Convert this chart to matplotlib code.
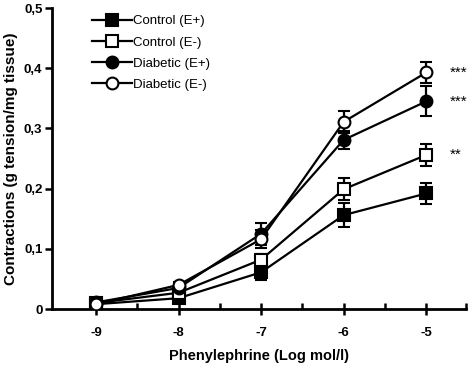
import numpy as np
import matplotlib
matplotlib.use("Agg")
import matplotlib.pyplot as plt
from matplotlib.ticker import FixedLocator, FuncFormatter

plt.rcParams['font.family'] = ['Liberation Sans', 'DejaVu Sans']
plt.rcParams['axes.unicode_minus'] = False

# Phenylephrine concentration (log mol/l)
conc = [-9, -8, -7, -6, -5]

# Contractions (g tension/mg tissue), mean and error
control_ep = [0.008, 0.018, 0.061, 0.156, 0.192]
control_ep_err = [0.004, 0.005, 0.012, 0.020, 0.017]
control_em = [0.010, 0.027, 0.082, 0.199, 0.256]
control_em_err = [0.004, 0.005, 0.010, 0.018, 0.018]
diab_ep = [0.011, 0.035, 0.125, 0.281, 0.345]
diab_ep_err = [0.004, 0.005, 0.018, 0.015, 0.025]
diab_em = [0.008, 0.040, 0.116, 0.311, 0.393]
diab_em_err = [0.004, 0.005, 0.015, 0.018, 0.018]

labels = ['Control (E+)', 'Control (E-)', 'Diabetic (E+)', 'Diabetic (E-)']
stars = ['', '**', '***', '***']

series = [
    (control_ep, control_ep_err, 's', 'black'),
    (control_em, control_em_err, 's', 'white'),
    (diab_ep, diab_ep_err, 'o', 'black'),
    (diab_em, diab_em_err, 'o', 'white'),
]

fig = plt.figure(figsize=(4.74, 3.67), dpi=100)
ax = fig.add_axes([0.110, 0.158, 0.873, 0.820])

handles = []
for (vals, err, mk, fc), lab, st in zip(series, labels, stars):
    eb = ax.errorbar(conc, vals, yerr=err, color='black', marker=mk, markersize=8.5,
                     markerfacecolor=fc, markeredgecolor='black', markeredgewidth=1.5,
                     linewidth=1.6, elinewidth=1.6, capsize=4, capthick=2, label=lab,
                     zorder=3)
    handles.append(eb.lines[0])
    if st:
        ax.text(-4.71, vals[-1], st, ha='left', va='center', fontsize=11,
                clip_on=False)

ax.set_xlim(-9.53, -4.52)
ax.set_ylim(0, 0.5)
ax.xaxis.set_major_locator(FixedLocator(conc))
ax.xaxis.set_minor_locator(FixedLocator([-8.5, -7.5, -6.5, -5.5, -4.52]))
ax.yaxis.set_major_locator(FixedLocator([0, 0.1, 0.2, 0.3, 0.4, 0.5]))
ax.yaxis.set_major_formatter(FuncFormatter(
    lambda v, p: '0' if v == 0 else f'{v:.1f}'.replace('.', ',')))

ax.spines['top'].set_visible(False)
ax.spines['right'].set_visible(False)
ax.spines['left'].set_linewidth(2)
ax.spines['bottom'].set_linewidth(2)
ax.tick_params(axis='x', which='major', direction='inout', length=8, width=1.8,
               labelsize=9.5, pad=9)
ax.tick_params(axis='x', which='minor', direction='in', length=4, width=1.8)
ax.tick_params(axis='y', which='major', direction='out', length=5, width=1.8,
               labelsize=9.5, pad=2)
for t in ax.get_xticklabels() + ax.get_yticklabels():
    t.set_fontweight('bold')

ax.set_xlabel('Phenylephrine (Log mol/l)', fontsize=10.5, fontweight='bold',
              labelpad=7)
ax.set_ylabel('Contractions (g tension/mg tissue)', fontsize=11,
              fontweight='bold', labelpad=4)

leg = ax.legend(handles, labels, loc='upper left', bbox_to_anchor=(0.09, 0.985),
                frameon=False, fontsize=9.5, handlelength=3, handletextpad=0.1,
                labelspacing=0.68, borderaxespad=0, borderpad=0.2)

plt.savefig('out.png', dpi=100)
